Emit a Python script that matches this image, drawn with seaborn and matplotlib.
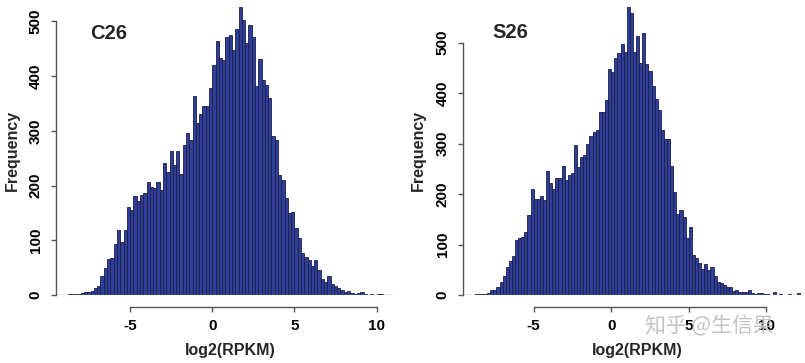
import numpy as np
import pandas as pd
import matplotlib
matplotlib.use("Agg")
import matplotlib.pyplot as plt
import seaborn as sns

# ---- data: histogram bin grid and counts ----
bin_width = 0.2
c26_start = -8.8
c26_counts = [1, 1, 2, 2, 3, 5, 6, 8, 12, 17, 35, 50, 66, 68, 94, 119, 96, 119, 160, 155,
              181, 171, 183, 186, 207, 198, 196, 207, 192, 242, 224, 264, 237, 264, 222, 274,
              297, 284, 364, 314, 331, 346, 346, 378, 421, 465, 433, 429, 471, 476, 448, 486,
              527, 502, 460, 494, 471, 382, 431, 393, 384, 360, 291, 284, 220, 210, 177, 150,
              151, 123, 104, 76, 70, 64, 53, 64, 46, 29, 23, 35, 21, 16, 12, 10, 5, 8, 4, 2,
              3, 5, 1, 0, 2, 0, 1, 1]
s26_start = -8.8
s26_counts = [1, 1, 2, 1, 3, 10, 9, 15, 26, 38, 56, 67, 77, 109, 112, 114, 125, 158, 209, 191,
              191, 197, 189, 245, 222, 210, 232, 232, 255, 227, 237, 241, 298, 253, 273, 278,
              299, 314, 322, 326, 362, 362, 386, 447, 441, 469, 480, 497, 482, 570, 559, 482,
              513, 459, 518, 457, 443, 414, 388, 367, 326, 308, 308, 255, 204, 161, 169, 155,
              112, 134, 79, 74, 63, 51, 61, 49, 55, 38, 26, 23, 20, 16, 15, 7, 9, 6, 6, 5, 10,
              3, 2, 3, 3, 1, 1, 0, 5, 0, 1, 0, 0, 1, 0, 0, 3]
panel_titles = ["C26", "S26"]
x_ticks = [-5, 0, 5, 10]
y_ticks = [0, 100, 200, 300, 400, 500]
x_label = "log2(RPKM)"
y_label = "Frequency"
watermark = "知乎 @生信果"

sns.set_style("ticks")
plt.rcParams["font.family"] = ["Liberation Sans", "DejaVu Sans"]
plt.rcParams["font.weight"] = "bold"
plt.rcParams["axes.unicode_minus"] = False

W, H = 805, 363
fig = plt.figure(figsize=(W / 100, H / 100), dpi=100)

face = "#2f3f98"
edge = "#1a1d45"
axis_col = "#555555"


def make_panel(rect, start, counts, title, xlim, ylim, title_x, ylab_x, xlab_x):
    ax = fig.add_axes(rect)
    n = len(counts)
    edges = [round(start + bin_width * i, 6) for i in range(n + 1)]
    df = pd.DataFrame({"x": [e + bin_width / 2 for e in edges[:-1]], "n": counts})
    sns.histplot(data=df, x="x", weights="n", bins=edges, ax=ax, stat="count",
                 color=face, edgecolor=edge, linewidth=0.6, alpha=1.0)
    ax.axhline(0, color="#777777", lw=1.0, zorder=3)
    ax.set_xlim(*xlim)
    ax.set_ylim(*ylim)
    ax.set_xticks(x_ticks)
    ax.set_yticks(y_ticks)
    for s in ["top", "right"]:
        ax.spines[s].set_visible(False)
    ax.spines["bottom"].set_bounds(-5, 10)
    ax.spines["bottom"].set_position(("outward", 8.4))
    ax.spines["left"].set_bounds(0, 500)
    for s in ["bottom", "left"]:
        ax.spines[s].set_color(axis_col)
        ax.spines[s].set_linewidth(1.0)
    ax.tick_params(axis="both", direction="out", length=3.6, width=1.0,
                   color=axis_col, labelsize=11, labelcolor="black")
    ax.tick_params(axis="x", pad=5)
    ax.tick_params(axis="y", pad=6)
    for lbl in ax.get_yticklabels():
        lbl.set_rotation(90)
        lbl.set_va("center")
        lbl.set_fontweight("bold")
    for lbl in ax.get_xticklabels():
        lbl.set_fontweight("bold")
    ax.set_xlabel(x_label, fontsize=11.5, fontweight="bold")
    ax.set_ylabel(y_label, fontsize=11.5, fontweight="bold")
    ax.xaxis.set_label_coords(xlab_x, -0.188)
    ax.xaxis.label.set_va("center")
    ax.yaxis.set_label_coords(ylab_x, 0.495)
    ax.yaxis.label.set_va("center")
    ax.text(title_x, 0.895, title, transform=ax.transAxes, fontsize=14.5,
            fontweight="bold", ha="left", va="center")
    return ax


ax1 = make_panel([56.1 / W, 68 / H, 337 / W, 292.7 / H], c26_start, c26_counts,
                 panel_titles[0], (-9.5, 11.0), (0, 535), 0.10, -0.131, 0.516)
ax2 = make_panel([463 / W, 68 / H, 339 / W, 292.9 / H], s26_start, s26_counts,
                 panel_titles[1], (-9.555, 12.3), (0, 580), 0.086, -0.133, 0.513)

fig.text(709 / W, 1 - 326 / H, watermark, fontsize=15, color="#bdbdbd", alpha=0.9,
         ha="center", va="center", family=["Noto Sans CJK SC", "DejaVu Sans"],
         fontweight="normal", zorder=10)

fig.savefig("out.png", dpi=100)
